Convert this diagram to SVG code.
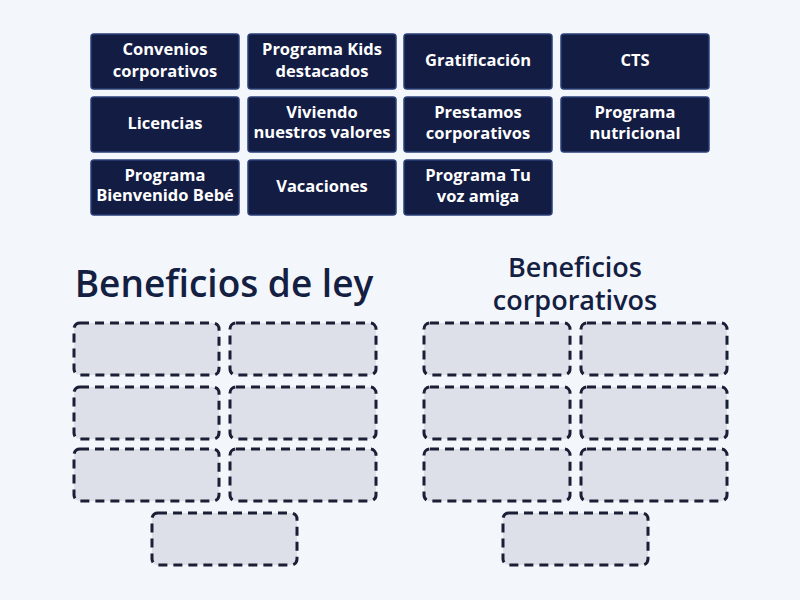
<svg xmlns="http://www.w3.org/2000/svg" width="800" height="600" viewBox="0 0 800 600">
<style>
.t rect{fill:#131c43;stroke:#2a3f78;stroke-width:1.5}
.t text{fill:#fff;font-family:"Open Sans",sans-serif;font-weight:bold;font-size:16.5px;text-anchor:middle}
.d{fill:#dde0e8;stroke:#1a1f36;stroke-width:3;stroke-dasharray:9 6}
.h{fill:#132042;font-family:"Open Sans",sans-serif;font-weight:600;text-anchor:middle}
</style>
<rect width="800" height="600" fill="#f3f6fa"/>
<g class="t">
<g id="n1"><rect x="91" y="34" width="148" height="55" rx="3"/><text x="165" y="55">Convenios</text><text x="165" y="77">corporativos</text></g>
<g id="n2"><rect x="248" y="34" width="148" height="55" rx="3"/><text x="322" y="55">Programa Kids</text><text x="322" y="77">destacados</text></g>
<g id="n3"><rect x="404" y="34" width="148" height="55" rx="3"/><text x="478" y="66">Gratificación</text></g>
<g id="n4"><rect x="561" y="34" width="148" height="55" rx="3"/><text x="635" y="66">CTS</text></g>
<g id="n5"><rect x="91" y="97" width="148" height="55" rx="3"/><text x="165" y="129">Licencias</text></g>
<g id="n6"><rect x="248" y="97" width="148" height="55" rx="3"/><text x="322" y="118" font-size="15.5">Viviendo</text><text x="322" y="138" font-size="15.5">nuestros valores</text></g>
<g id="n7"><rect x="404" y="97" width="148" height="55" rx="3"/><text x="478" y="118">Prestamos</text><text x="478" y="139">corporativos</text></g>
<g id="n8"><rect x="561" y="97" width="148" height="55" rx="3"/><text x="635" y="118">Programa</text><text x="635" y="139">nutricional</text></g>
<g id="n9"><rect x="91" y="160" width="148" height="55" rx="3"/><text x="165" y="181" font-size="15.5">Programa</text><text x="165" y="201" font-size="15.5">Bienvenido Bebé</text></g>
<g id="n10"><rect x="248" y="160" width="148" height="55" rx="3"/><text x="322" y="192">Vacaciones</text></g>
<g id="n11"><rect x="404" y="160" width="148" height="55" rx="3"/><text x="478" y="181">Programa Tu</text><text x="478" y="202">voz amiga</text></g>
</g>
<text class="h" x="224" y="297" font-size="37">Beneficios de ley</text>
<text class="h" x="575" y="277" font-size="27">Beneficios</text>
<text class="h" x="575" y="310" font-size="27">corporativos</text>
<g id="drops">
<rect class="d" x="74" y="323" width="145" height="52" rx="6"/>
<rect class="d" x="230" y="323" width="146" height="52" rx="6"/>
<rect class="d" x="74" y="387" width="145" height="52" rx="6"/>
<rect class="d" x="230" y="387" width="146" height="52" rx="6"/>
<rect class="d" x="74" y="449" width="145" height="52" rx="6"/>
<rect class="d" x="230" y="449" width="146" height="52" rx="6"/>
<rect class="d" x="152" y="513" width="145" height="52" rx="6"/>
<rect class="d" x="424" y="323" width="146" height="52" rx="6"/>
<rect class="d" x="581" y="323" width="146" height="52" rx="6"/>
<rect class="d" x="424" y="387" width="146" height="52" rx="6"/>
<rect class="d" x="581" y="387" width="146" height="52" rx="6"/>
<rect class="d" x="424" y="449" width="146" height="52" rx="6"/>
<rect class="d" x="581" y="449" width="146" height="52" rx="6"/>
<rect class="d" x="503" y="513" width="145" height="52" rx="6"/>
</g>
</svg>
